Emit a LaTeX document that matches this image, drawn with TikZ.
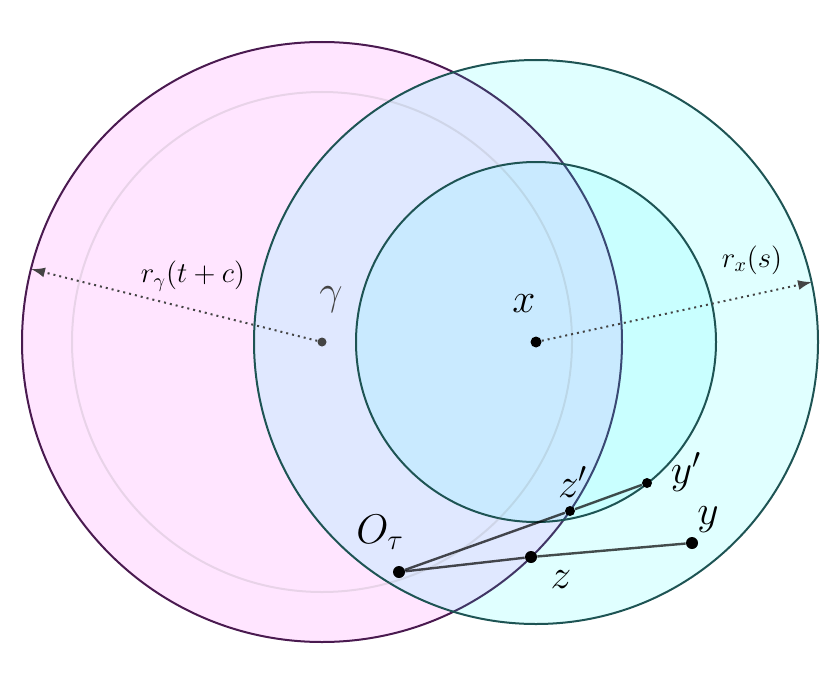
\documentclass[tikz,border=0pt]{standalone}
\usepackage{amsmath}
\usepackage{tikz}
\usetikzlibrary{arrows.meta}

\definecolor{gammaline}{RGB}{74,26,80}
\definecolor{xline}{RGB}{30,84,84}
\definecolor{gammafill}{RGB}{255,0,255}
\definecolor{xfill}{RGB}{0,255,255}
\definecolor{dotgray}{RGB}{68,68,68}

\tikzset{
  ball/.style={line width=1pt},
  pt/.style={circle,fill=black,inner sep=0pt,minimum size=5.5pt},
  seg/.style={line width=1.2pt,draw=black,draw opacity=0.7},
  radius line/.style={line width=1pt,dotted,draw=dotgray,-{Latex[length=7pt,width=5pt]}},
  lbl/.style={font=\huge},
}

\begin{document}
\begin{tikzpicture}[x=0.5pt,y=-0.5pt]
\useasboundingbox (0,0) rectangle (840,674);

% balls
\filldraw[ball,fill=gammafill,fill opacity=0.1,draw=gammaline] (322,342) circle [radius=300];
\filldraw[ball,fill=xfill,fill opacity=0.12,draw=xline] (536,342) circle [radius=282];
\filldraw[ball,fill=xfill,fill opacity=0.1,draw=xline] (536,342) circle [radius=180];
\draw[line width=1pt,gray,opacity=0.18] (322,342) circle [radius=250];

% centres and points
\node[pt,fill=dotgray,minimum size=4.5pt] (g) at (322,342) {};
\node[pt] (x) at (536,342) {};
\node[pt,minimum size=6pt] (o) at (399,572) {};
\node[pt,minimum size=6pt] (z) at (531,557) {};
\node[pt,minimum size=6pt] (y) at (692,543) {};
\node[pt,minimum size=5pt] (zp) at (570,511) {};
\node[pt,minimum size=5pt] (yp) at (647,483) {};
\coordinate (ga) at (31,269);
\coordinate (xa) at (812,282);

% radii
\draw[radius line] (g) -- (ga);
\draw[radius line] (x) -- (xa);

% segments
\draw[seg] (o) -- (zp) -- (yp);
\draw[seg] (o) -- (z) -- (y);

% labels
\node[lbl,text=dotgray] (gl) at (331,300) {$\gamma$};
\node[lbl] (xl) at (524,304) {$x$};
\node[font=\Large] (rg) at (193,276) {$r_\gamma(t+c)$};
\node[font=\Large] (rx) at (752,260) {$r_x(s)$};
\node[lbl] (ol) at (380,532) {$O_\tau$};
\node[lbl] (zpl) at (573,482) {$z'$};
\node[lbl] (ypl) at (686,472) {$y'$};
\node[lbl] (yl) at (708,520) {$y$};
\node[lbl] (zl) at (561,580) {$z$};
\end{tikzpicture}
\end{document}
